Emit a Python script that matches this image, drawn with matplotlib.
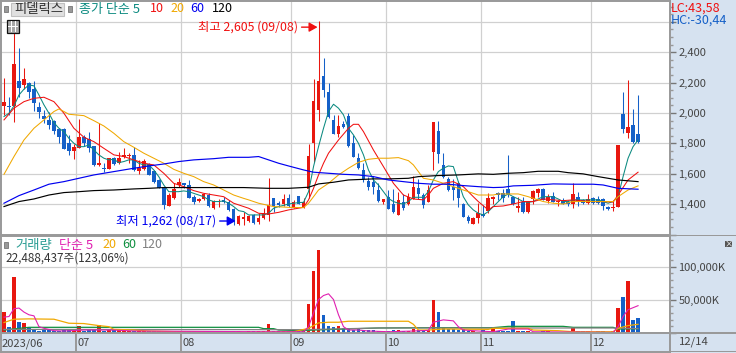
import matplotlib
matplotlib.use("Agg")
import matplotlib.pyplot as plt
from matplotlib.patches import Rectangle
from matplotlib.ticker import MultipleLocator, FuncFormatter

plt.rcParams['font.family'] = ['Noto Sans CJK KR', 'DejaVu Sans']

W, H = 736, 353

opens = [2047,2047,2047,2211,2185,2196,2159,2043,1983,1955,
 1948,1896,1896,1801,1751,1773,1845,1828,1784,1659,
 1641,1632,1703,1670,1714,1718,1725,1621,1630,1668,
 1619,1560,1512,1389,1439,1527,1538,1527,1450,1424,
 1433,1461,1374,1422,1429,1418,1369,1268,1304,1293,
 1330,1284,1308,1330,1439,1411,1402,1439,1378,1455,
 1385,1499,1801,2021,2244,2139,1955,1863,1929,1981,
 1801,1707,1626,1554,1549,1494,1415,1450,1402,1330,
 1413,1402,1437,1507,1461,1418,1744,1880,1659,1567,
 1516,1543,1402,1314,1273,1310,1334,1358,1433,1475,
 1477,1501,1450,1374,1413,1347,1433,1472,1501,1420,
 1457,1415,1429,1418,1400,1450,1429,1407,1439,1433,
 1433,1385,1374,1380,1994,1867,1922,1863]
closes = [2073,2038,2323,2168,2225,2139,2064,2005,1959,1922,
 1882,1841,1766,1751,1775,1841,1801,1768,1659,1670,
 1635,1705,1665,1707,1722,1722,1626,1637,1687,1593,
 1547,1510,1393,1461,1501,1549,1525,1444,1418,1433,
 1468,1389,1424,1424,1418,1363,1286,1325,1314,1325,
 1279,1308,1341,1396,1389,1396,1435,1389,1415,1402,
 1415,1718,2080,2211,2152,1972,1863,1915,1907,1786,
 1714,1637,1564,1516,1516,1424,1433,1369,1350,1429,
 1374,1450,1512,1468,1396,1494,1942,1731,1582,1494,
 1494,1439,1319,1290,1312,1345,1325,1442,1450,1461,
 1439,1468,1402,1389,1347,1415,1486,1499,1429,1450,
 1418,1424,1402,1400,1468,1424,1407,1435,1407,1407,
 1389,1372,1380,1790,1893,1909,1812,1812]
highs = [2229,2108,2525,2426,2295,2207,2211,2075,2021,2010,
 1955,1900,1900,1856,1797,1959,1856,1876,1784,1937,
 1670,1707,1714,1746,1768,1740,1775,1692,1696,1674,
 1626,1567,1516,1472,1538,1575,1543,1560,1461,1439,
 1477,1477,1429,1435,1446,1429,1374,1330,1352,1330,
 1334,1341,1374,1571,1439,1422,1466,1466,1429,1455,
 1439,1797,2222,2605,2360,2196,1988,1988,1950,1999,
 1856,1736,1670,1582,1586,1543,1435,1494,1499,1483,
 1466,1472,1589,1564,1477,1527,1942,1948,1736,1582,
 1564,1554,1407,1330,1314,1407,1396,1472,1455,1479,
 1499,1725,1455,1446,1450,1420,1494,1505,1507,1468,
 1479,1429,1444,1429,1543,1483,1433,1468,1446,1455,
 1439,1389,1429,1790,2141,2218,2027,2119]
lows = [1988,1988,1944,2108,2157,2097,2016,1970,1933,1893,
 1863,1801,1766,1725,1700,1773,1786,1746,1654,1652,
 1615,1632,1659,1665,1703,1670,1621,1600,1626,1593,
 1538,1505,1369,1389,1435,1516,1505,1439,1402,1413,
 1429,1385,1367,1380,1411,1358,1262,1264,1265,1286,
 1271,1271,1301,1293,1352,1385,1389,1385,1374,1400,
 1374,1439,1681,1950,2108,1966,1863,1841,1900,1779,
 1714,1632,1549,1494,1468,1418,1400,1367,1341,1330,
 1363,1396,1433,1435,1378,1415,1626,1670,1575,1490,
 1429,1380,1319,1279,1273,1275,1314,1341,1402,1429,
 1418,1450,1396,1352,1345,1345,1402,1450,1429,1407,
 1415,1391,1402,1389,1374,1389,1400,1400,1402,1402,
 1363,1363,1358,1380,1871,1834,1801,1806]

ma5 = [1977,1999,2047,2119,2157,2185,2179,2119,2054,1999,
 1937,1900,1878,1834,1801,1779,1779,1790,1757,1725,
 1703,1692,1696,1674,1681,1692,1692,1670,1659,1659,
 1626,1582,1527,1483,1483,1483,1488,1483,1472,1461,
 1450,1429,1418,1418,1422,1407,1385,1358,1352,1330,
 1330,1330,1330,1341,1374,1385,1393,1402,1407,1411,
 1413,1483,1648,1779,1900,2010,2058,2032,1988,1900,
 1856,1801,1725,1626,1560,1527,1483,1439,1418,1407,
 1402,1418,1446,1446,1446,1483,1560,1615,1637,1652,
 1648,1549,1450,1396,1363,1341,1330,1352,1385,1418,
 1450,1468,1450,1435,1418,1413,1418,1435,1450,1450,
 1450,1435,1418,1418,1429,1429,1429,1429,1429,1429,
 1418,1407,1418,1450,1582,1703,1779,1823]
ma10_x = [0,2,4,6,8,10,12,14,16,18,20,22,24,26,28,30,32,34,36,38,40,42,44,46,48,49,51,53,55,57,60,61,62,63,64,65,67,69,70,71,72,74,76,78,80,82,84,85,86,88,90,92,94,95,97,98,100,102,104,106,108,110,112,114,116,118,120,122,123,125,127]
ma10_y = [1955,2032,2075,2097,2104,2075,1999,1900,1841,1812,1768,1725,1714,1692,1670,1659,1604,1538,1516,1490,1472,1461,1450,1407,1385,1374,1341,1336,1347,1363,1380,1429,1505,1593,1670,1736,1823,1900,1926,1926,1878,1757,1648,1538,1461,1435,1429,1461,1505,1538,1549,1516,1450,1418,1363,1385,1389,1402,1418,1418,1435,1429,1424,1429,1422,1418,1418,1415,1461,1560,1611]
ma20_x = [0,2,4,6,8,10,11,12,13,16,18,20,22,24,26,28,30,32,34,36,38,40,42,44,46,48,49,51,54,57,60,61,62,63,65,67,69,71,73,75,77,79,81,82,83,84,86,88,90,92,94,95,97,98,99,103,105,108,110,112,114,116,120,122,123,125,127]
ma20_y = [1597,1714,1823,1900,1955,2010,2027,2010,1992,1983,1950,1915,1867,1812,1775,1736,1703,1670,1630,1604,1582,1549,1527,1494,1461,1439,1429,1407,1385,1380,1378,1407,1450,1494,1538,1593,1637,1676,1696,1703,1703,1707,1687,1659,1615,1571,1560,1538,1516,1494,1472,1461,1461,1461,1468,1468,1450,1418,1407,1402,1418,1418,1418,1418,1450,1494,1521]
ma60_x = [0,3,6,9,12,15,18,22,26,29,32,35,38,42,45,49,51,53,55,57,60,62,65,68,71,74,77,80,83,86,89,92,95,97,98,100,102,106,110,114,118,120,123,127]
ma60_y = [1407,1457,1494,1532,1549,1571,1593,1615,1637,1652,1665,1681,1692,1700,1709,1709,1714,1692,1670,1652,1626,1611,1604,1597,1593,1582,1560,1549,1538,1532,1532,1523,1516,1512,1510,1512,1521,1525,1534,1532,1532,1527,1505,1499]
ma120_x = [0,3,6,9,12,15,18,22,26,29,32,48,53,57,61,63,66,69,74,77,81,83,87,91,95,98,101,104,107,111,113,116,119,123,127]
ma120_y = [1385,1418,1435,1461,1477,1483,1490,1494,1501,1505,1510,1510,1505,1505,1512,1534,1545,1560,1567,1567,1571,1582,1589,1593,1600,1597,1604,1608,1617,1617,1608,1600,1582,1560,1549]

volumes = [30800,9200,84600,16900,14900,6700,5100,3100,4100,3600,
 3100,3100,5100,5100,3100,10300,3100,3600,4100,11300,
 3100,3600,4600,4100,3100,3100,2600,2600,2100,2600,
 2600,2100,3100,2100,2600,2100,2100,2600,2100,1600,
 2100,2100,1600,1600,1600,2100,2600,2100,1600,2100,
 2100,2600,2100,13300,3100,2600,3100,3100,2600,3100,
 3100,44100,93900,124700,27200,10800,8700,10800,6700,6700,
 4100,6200,3600,4100,3600,2600,2100,3100,4100,4100,
 2600,2600,6200,4100,3100,4100,50300,31800,7700,6200,
 6200,4100,6200,3100,3100,1600,3600,1600,6200,3100,
 3100,2600,18000,3100,2600,3100,1600,1600,2100,2100,
 1600,1600,1600,1600,7700,2100,2100,2100,1600,2100,
 2100,1600,2100,38000,53400,78000,19500,22488]
vol5_x = [0,1,2,3,4,5,6,7,8,10,12,16,22,26,52,60,61,62,63,64,65,66,67,68,69,71,73,77,82,85,86,88,90,91,92,95,98,101,105,106,122,123,124,125,127]
vol5_y = [23600,24600,36400,37400,31300,27200,25600,9200,6700,3100,2600,4100,4100,2600,1500,1500,9200,29800,50300,56400,59000,50300,27200,9200,4100,4100,2600,1500,2600,3600,15900,19500,18000,9200,4100,2600,1500,5600,5600,1500,500,9200,24600,34900,41000]
vol20_x = [0,1,2,5,10,13,16,19,21,22,26,29,35,41,48,58,61,63,65,67,69,81,82,83,85,88,97,98,105,106,111,114,122,123,125,127]
vol20_y = [15400,18000,20500,21000,20500,14400,13900,10800,9200,5100,4100,2600,1500,1500,500,1500,6700,14900,15900,15900,17400,17400,12800,4100,4100,5600,5100,6700,6700,4100,3100,1500,1500,6700,10800,12800]
vol60_x = [0,5,51,52,54,55,60,62,75,85,98,101,112,114,122,123,127]
vol60_y = [4100,8200,8200,6200,6200,4100,3100,4100,7200,7700,7700,9700,9700,8200,8200,5600,6200]
vol120_x = [0,60,75,122,127]
vol120_y = [5100,4600,7200,7200,6200]

month_pos = [14.5, 35.5, 57.5, 76.5, 95.5, 117.5]
month_labels = ['07', '08', '09', '10', '11', '12']

RED, BLUE = '#e8170f', '#1560c8'
GRID, EDGE, PANEL = '#d0d0d0', '#999999', '#d6e2f0'
n = len(closes)
xs = list(range(n))
colors = [RED if c >= o else BLUE for o, c in zip(opens, closes)]

fig = plt.figure(figsize=(W / 100, H / 100), dpi=100, facecolor=PANEL)

def pane(l, t, r, b):
    ax = fig.add_axes([l / W, 1 - b / H, (r - l) / W, (b - t) / H])
    ax.set_xlim(-0.6, 133.4)
    for s in ax.spines.values():
        s.set_color(EDGE)
        s.set_linewidth(1.4)
    ax.set_axisbelow(True)
    return ax

def fmt_k(v, _):
    return f'{int(v):,}K'

def right_ticks(a):
    a.tick_params(axis='y', which='major', length=4.5, width=1, color='#777777', labelcolor='#444444', labelsize=8.0, pad=1.5)
    a.tick_params(axis='y', which='minor', length=2.5, width=1, color='#999999')

# price panel
ax = pane(1, 1, 670, 235)
ax.set_ylim(1198, 2737)
ax.yaxis.tick_right()
ax.yaxis.set_major_locator(MultipleLocator(200))
ax.yaxis.set_minor_locator(MultipleLocator(50))
ax.yaxis.set_major_formatter(FuncFormatter(lambda v, _: f'{int(v):,}' if 1400 <= v <= 2400 else ''))
right_ticks(ax)
ax.set_xticks(month_pos)
ax.tick_params(axis='x', length=0, labelbottom=False)
ax.grid(True, axis='both', which='major', color=GRID, lw=0.9)
ax.vlines(xs, lows, highs, colors=colors, lw=0.75, zorder=3)
ax.bar(xs, [abs(c - o) for o, c in zip(opens, closes)], bottom=[min(o, c) for o, c in zip(opens, closes)],
       width=0.72, color=colors, lw=0, zorder=3)
ax.plot(xs, ma5, color='#0b8a80', lw=0.75, zorder=4)
ax.plot(ma10_x, ma10_y, color='#f01010', lw=0.75, zorder=4)
ax.plot(ma20_x, ma20_y, color='#f0a800', lw=0.75, zorder=4)
ax.plot(ma120_x, ma120_y, color='#000000', lw=0.85, zorder=4)
ax.plot(ma60_x, ma60_y, color='#0000f0', lw=0.85, zorder=4)

imax = highs.index(max(highs))
imin = lows.index(min(lows))
ax.annotate('', xy=(imax - 0.2, 2565), xytext=(imax - 3.4, 2565),
            arrowprops=dict(arrowstyle='-|>,head_width=0.28,head_length=0.5', color='#f01010', lw=1, shrinkA=0, shrinkB=0))
ax.annotate('', xy=(imin + 0.4, 1290), xytext=(imin - 2.8, 1290),
            arrowprops=dict(arrowstyle='-|>,head_width=0.28,head_length=0.5', color='#0000f0', lw=1, shrinkA=0, shrinkB=0))
ax.text(imax - 4.2, 2565, f'최고 {max(highs):,} (09/08)', color='#f01010', fontsize=8.9, ha='right', va='center')
ax.text(imin - 3.6, 1290, f'최저 {min(lows):,} (08/17)', color='#0000f0', fontsize=8.9, ha='right', va='center')

# volume panel
av = pane(1, 236, 670, 333)
av.set_ylim(-400, 146600)
av.yaxis.tick_right()
av.yaxis.set_major_locator(MultipleLocator(50000))
av.yaxis.set_minor_locator(MultipleLocator(10000))
av.yaxis.set_major_formatter(FuncFormatter(lambda v, _: fmt_k(v, _) if 50000 <= v <= 100000 else ''))
right_ticks(av)
av.set_xticks(month_pos)
av.tick_params(axis='x', length=0, labelbottom=False)
av.grid(True, axis='both', which='major', color=GRID, lw=0.9)
av.bar(xs, volumes, width=0.72, color=colors, lw=0, zorder=3)
av.plot(vol60_x, vol60_y, color='#109040', lw=0.9, zorder=4)
av.plot(vol120_x, vol120_y, color='#808080', lw=0.9, zorder=4)
av.plot(vol20_x, vol20_y, color='#f0a800', lw=0.9, zorder=5)
av.plot(vol5_x, vol5_y, color='#e020b0', lw=0.8, zorder=6)

# time strip
at = pane(1, 333, 670, 352)
at.set_facecolor(PANEL)
at.set_ylim(0, 1)
at.set_yticks([])
at.set_xticks(month_pos)
at.tick_params(axis='x', length=0, labelbottom=False)
at.vlines(month_pos, 0, 1, color=EDGE, lw=1.4)
at.text(-0.4, 0.45, '2023/06', color='#444444', fontsize=8.0, va='center', ha='left')
for m, lab in zip(month_pos, month_labels):
    at.text(m + 0.3, 0.45, lab, color='#444444', fontsize=8.0, va='center', ha='left')

def label(x, y, s, c, size=8.6, **kw):
    fig.text(x / W, 1 - y / H, s, color=c, fontsize=size, va='center', ha='left', **kw)

def box(l, t, r, b, fc, ec='none', lw=0.0, z=10):
    fig.add_artist(Rectangle((l / W, 1 - b / H), (r - l) / W, (b - t) / H, transform=fig.transFigure,
                             fc=fc, ec=ec, lw=lw, zorder=z))

# separators across the right-hand panel
for yy in (235.5, 333, 351.5):
    box(670, yy - 0.6, 736, yy + 0.6, EDGE)

label(679, 342, '12/14', '#444444', 8.2)
label(671, 8, 'LC:43,58', '#f01010', 9.0)
label(671, 20, 'HC:-30,44', '#1560c8', 9.0)

# price header
box(4, 6, 8, 12, '#999999', '#777777', 0.6)
box(11, 3, 64, 16, '#e0e0e0', '#c0c0c0', 0.8)
label(14, 9, '피델릭스', '#333333', 9.6, zorder=11)
box(68, 6, 72, 12, '#999999', '#777777', 0.6)
label(79, 9, '종가 단순 5', '#0b8a80', 9.4)
label(150, 9, '10', '#f01010', 9.0)
label(170, 9, '20', '#f0a800', 9.0)
label(190, 9, '60', '#0000f0', 9.0)
label(212, 9, '120', '#000000', 9.0)
box(7, 20, 19, 33, '#a8a8a8', '#111111', 0.9)
for gx in (11, 15):
    box(gx, 21, gx + 0.5, 32, '#ffffff', z=11)
box(8, 26, 18, 26.5, '#ffffff', z=11)

# volume header
box(4, 242, 8, 248, '#999999', '#777777', 0.6)
label(15, 245, '거래량', '#2a9d94', 9.6)
label(59, 245, '단순 5', '#e020b0', 9.4)
label(102, 245, '20', '#f0a800', 9.0)
label(122, 245, '60', '#109040', 9.0)
label(142, 245, '120', '#808080', 9.0)
label(5, 258, '22,488,437주(123,06%)', '#333333', 8.4)

# close button
box(725, 241, 732, 247, '#555555')
fig.text(728.5 / W, 1 - 244 / H, '×', color='white', fontsize=6, ha='center', va='center', zorder=11)

fig.savefig('out.png', dpi=100, facecolor=PANEL)
